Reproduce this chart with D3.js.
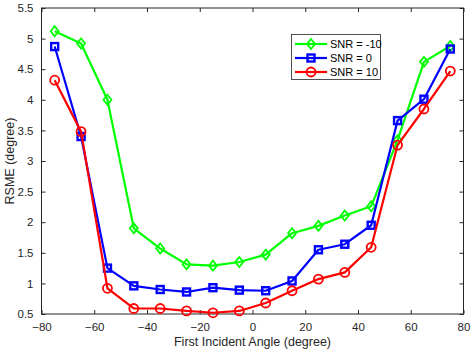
<!DOCTYPE html>
<html><head><meta charset="utf-8">
<script src="https://cdn.jsdelivr.net/npm/d3@7"></script>
<style>body{margin:0;background:#fff}svg{display:block;font-family:Arial,"Liberation Sans",sans-serif}</style>
</head><body><svg id="c" width="474" height="357"></svg>
<script>
const angles = [-75,-65,-55,-45,-35,-25,-15,-5,5,15,25,35,45,55,65,75];
const snrM10 = [5.12,4.92,4.0,1.9,1.57,1.31,1.29,1.35,1.47,1.82,1.94,2.11,2.26,3.34,4.62,4.88];
const snr0   = [4.87,3.4,1.25,0.96,0.9,0.86,0.93,0.89,0.88,1.04,1.55,1.64,1.95,3.66,4.01,4.83];
const snr10  = [4.32,3.48,0.92,0.59,0.59,0.55,0.52,0.55,0.68,0.88,1.07,1.18,1.59,3.26,3.85,4.47];
const seriesNames = ["SNR = -10","SNR = 0","SNR = 10"];
const xTicks = [-80,-60,-40,-20,0,20,40,60,80];
const yTicks = [0.5,1,1.5,2,2.5,3,3.5,4,4.5,5,5.5];

const svg = d3.select("#c");
const L=41.5, R=463.5, T=8, B=314;
const x = d3.scaleLinear().domain([-80,80]).range([L,R]);
const y = d3.scaleLinear().domain([0.5,5.5]).range([B,T]);
const axCol="#262626";

svg.append("rect").attr("x",L).attr("y",T).attr("width",R-L).attr("height",B-T).attr("fill","#fff");

function styleAxis(g){ g.select(".domain").remove(); g.selectAll("line").attr("stroke",axCol); g.selectAll("text").attr("fill",axCol).attr("font-size",11.5); }
svg.append("g").attr("transform",`translate(0,${B})`).call(d3.axisBottom(x).tickValues(xTicks).tickSize(-4).tickPadding(9).tickFormat(d3.format("d"))).call(styleAxis);
svg.append("g").attr("transform",`translate(0,${T})`).call(d3.axisTop(x).tickValues(xTicks).tickSize(-4).tickFormat("")).call(styleAxis);
svg.append("g").attr("transform",`translate(${L},0)`).call(d3.axisLeft(y).tickValues(yTicks).tickSize(-4).tickPadding(8).tickFormat(d=>String(d))).call(styleAxis);
svg.append("g").attr("transform",`translate(${R},0)`).call(d3.axisRight(y).tickValues(yTicks).tickSize(-4).tickFormat("")).call(styleAxis);
svg.append("rect").attr("x",L).attr("y",T).attr("width",R-L).attr("height",B-T).attr("fill","none").attr("stroke",axCol).attr("stroke-width",1);

const series = [
  {name:seriesNames[0], vals:snrM10, color:"#00ff00", sym:"diamond"},
  {name:seriesNames[1], vals:snr0,   color:"#0000ff", sym:"square"},
  {name:seriesNames[2], vals:snr10,  color:"#ff0000", sym:"circle"}
];
function marker(g, sym, cx, cy, color){
  if(sym==="diamond") g.append("path").attr("d",`M${cx},${cy-5}L${cx+4},${cy}L${cx},${cy+5}L${cx-4},${cy}Z`).attr("fill","none").attr("stroke",color).attr("stroke-width",1.8);
  else if(sym==="square") g.append("rect").attr("x",cx-3.5).attr("y",cy-3.5).attr("width",7).attr("height",7).attr("fill","none").attr("stroke",color).attr("stroke-width",2.4);
  else g.append("circle").attr("cx",cx).attr("cy",cy).attr("r",4.5).attr("fill","none").attr("stroke",color).attr("stroke-width",1.8);
}
const line = d3.line().x(d=>x(d[0])).y(d=>y(d[1]));
series.forEach(s=>{
  const pts = angles.map((a,i)=>[a,s.vals[i]]);
  svg.append("path").datum(pts).attr("d",line).attr("fill","none").attr("stroke",s.color).attr("stroke-width",2.2).attr("stroke-linejoin","round");
  const g=svg.append("g");
  pts.forEach(p=>marker(g,s.sym,x(p[0]),y(p[1]),s.color));
});

// legend
const lg = svg.append("g");
lg.append("rect").attr("x",291.5).attr("y",34.5).attr("width",89).attr("height",45).attr("fill","#fff").attr("stroke","#262626").attr("stroke-width",0.8);
series.forEach((s,i)=>{
  const ly = 44 + i*14;
  lg.append("line").attr("x1",295).attr("x2",327).attr("y1",ly).attr("y2",ly).attr("stroke",s.color).attr("stroke-width",2.2);
  marker(lg,s.sym,311,ly,s.color);
  lg.append("text").attr("x",330).attr("y",ly+4).attr("font-size",11).attr("fill","#000").text(s.name);
});

svg.append("text").attr("x",(L+R)/2).attr("y",346).attr("text-anchor","middle").attr("font-size",12.5).attr("fill",axCol).text("First Incident Angle (degree)");
svg.append("text").attr("transform",`translate(14,${(T+B)/2}) rotate(-90)`).attr("text-anchor","middle").attr("font-size",12.5).attr("fill",axCol).text("RSME (degree)");
</script></body></html>
